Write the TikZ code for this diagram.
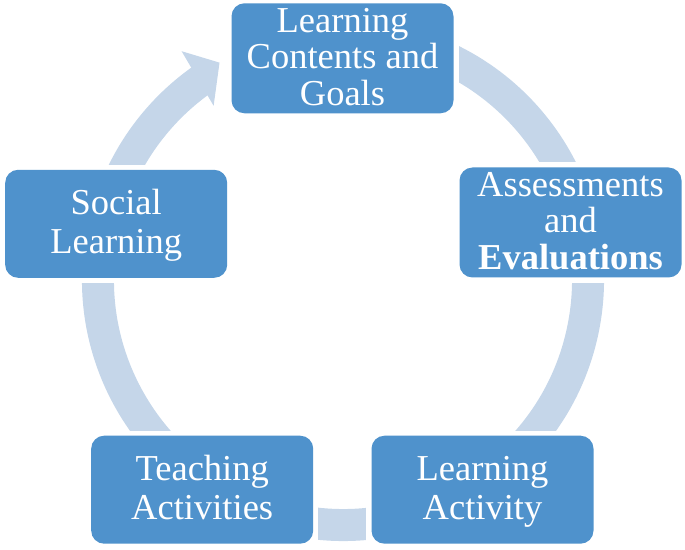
\documentclass[tikz,border=0pt]{standalone}
\usepackage{fontspec}
\setmainfont{Liberation Serif}
\usetikzlibrary{backgrounds}
\definecolor{boxblue}{RGB}{79,146,204}
\definecolor{ringblue}{RGB}{197,214,233}
\tikzset{
  stage/.style={fill=boxblue, rounded corners=13pt, minimum width=222pt, minimum height=108pt,
    inner sep=0pt, align=center, text=white, font=\fontsize{36.5}{39}\selectfont},
  tight/.style={font=\fontsize{36.5}{36.5}\selectfont},
  gap/.style={fill=white},
  ring/.style={draw=ringblue, line width=32pt}
}
\newcommand{\ls}{\rule[-8pt]{0pt}{37pt}}
\begin{document}
\begin{tikzpicture}[x=1pt, y=1pt]
\useasboundingbox (0,0) rectangle (685,549);
\node[stage, tight] (goals) at (342.5,490.7) {\ls Learning\\Contents and\\Goals\ls};
\node[stage, tight] (assess) at (570.5,326.5) {\ls Assessments\\and\\\textbf{Evaluations}\ls};
\node[stage] (social) at (116.2,325.2) {\ls Social\\Learning\ls};
\node[stage] (teach) at (202.2,59.3) {\ls Teaching\\Activities\ls};
\node[stage] (activity) at (482.5,59.3) {\ls Learning\\Activity\ls};

\begin{scope}[on background layer]
\begin{scope}[shift={(343,269)}]
\draw[ring] (80:245) arc (80:-235.3:245);
\fill[ringblue] (125.2:280) -- (119.6:250) -- (126.6:217) -- cycle;
\end{scope}
\foreach \n in {goals,assess,social,teach,activity}
  \fill[gap] ([shift={(-5,-5)}]\n.south west) rectangle ([shift={(5,5)}]\n.north east);
\end{scope}
\end{tikzpicture}
\end{document}
